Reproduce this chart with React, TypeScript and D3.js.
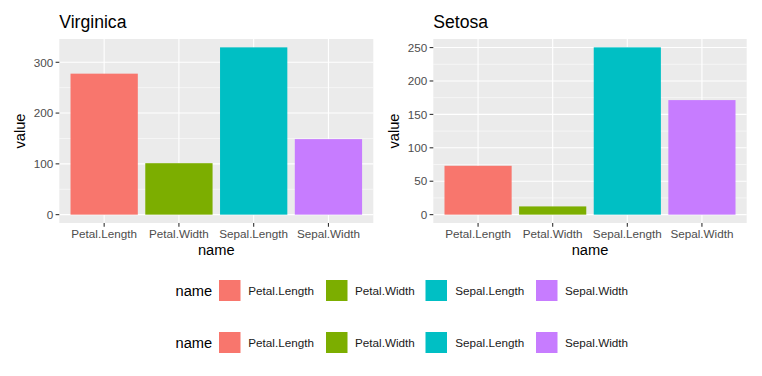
import React from "react";
import * as d3 from "d3";

const categories = ["Petal.Length", "Petal.Width", "Sepal.Length", "Sepal.Width"];
const virginicaValues = [277.6, 101.3, 329.4, 148.7];
const setosaValues = [73.1, 12.3, 250.3, 171.4];
const colors = ["#F8766D", "#7CAE00", "#00BFC4", "#C77CFF"];
const virginicaTicks = [0, 100, 200, 300];
const virginicaMinor = [50, 150, 250];
const setosaTicks = [0, 50, 100, 150, 200, 250];
const setosaMinor = [25, 75, 125, 175, 225];
const panelTitles = ["Virginica", "Setosa"];
const legendTitle = "name";
const xTitle = "name";
const yTitle = "value";

const FONT = "'Liberation Sans', Arial, Helvetica, sans-serif";

function Panel({ x0, x1, title, values, ticks, minor }: any) {
  const top = 39;
  const bottom = 223;
  const maxV = d3.max(values as number[]) as number;
  const y = d3.scaleLinear().domain([-0.05 * maxV, 1.05 * maxV]).range([bottom, top]);
  const x = d3.scalePoint<string>().domain(categories).range([x0, x1]).padding(0.6);
  const bw = x.step() * 0.9;
  return (
    <g>
      <text x={x0} y={28} fontSize={17.6} fill="#000" fontFamily={FONT}>{title}</text>
      <rect x={x0} y={top} width={x1 - x0} height={bottom - top} fill="#EBEBEB" />
      {minor.map((t: number) => (
        <line key={"m" + t} x1={x0} x2={x1} y1={y(t)} y2={y(t)} stroke="#fff" strokeWidth={0.55} />
      ))}
      {ticks.map((t: number) => (
        <line key={"t" + t} x1={x0} x2={x1} y1={y(t)} y2={y(t)} stroke="#fff" strokeWidth={1.1} />
      ))}
      {categories.map((c) => (
        <line key={"v" + c} x1={x(c)} x2={x(c)} y1={top} y2={bottom} stroke="#fff" strokeWidth={1.1} />
      ))}
      {categories.map((c, i) => (
        <rect key={"b" + c} x={(x(c) as number) - bw / 2} y={y(values[i])} width={bw}
          height={y(0) - y(values[i])} fill={colors[i]} />
      ))}
      {ticks.map((t: number) => (
        <g key={"yt" + t}>
          <line x1={x0 - 3.7} x2={x0} y1={y(t)} y2={y(t)} stroke="#333" strokeWidth={1.1} />
          <text x={x0 - 6} y={y(t)} dy="0.36em" textAnchor="end" fontSize={11.7} fill="#4D4D4D" fontFamily={FONT}>{t}</text>
        </g>
      ))}
      {categories.map((c) => (
        <g key={"xt" + c}>
          <line x1={x(c)} x2={x(c)} y1={bottom} y2={bottom + 3.7} stroke="#333" strokeWidth={1.1} />
          <text x={x(c)} y={238.3} textAnchor="middle" fontSize={11.7} fill="#4D4D4D" fontFamily={FONT}>{c}</text>
        </g>
      ))}
      <text x={(x0 + x1) / 2} y={254.5} textAnchor="middle" fontSize={14.67} fill="#000" fontFamily={FONT}>{xTitle}</text>
      <text transform={`translate(${x0 - 34.5},${(top + bottom) / 2}) rotate(-90)`} textAnchor="middle"
        fontSize={14.67} fill="#000" fontFamily={FONT}>{yTitle}</text>
    </g>
  );
}

function Legend({ cy }: { cy: number }) {
  const keyX = [219, 326, 425.5, 536];
  const labelX = [248.3, 355, 455.3, 565];
  return (
    <g>
      <text x={175.5} y={cy + 5.3} fontSize={14.67} fill="#000" fontFamily={FONT}>{legendTitle}</text>
      {categories.map((c, i) => (
        <g key={c}>
          <rect x={keyX[i]} y={cy - 10.5} width={21.5} height={21} fill={colors[i]} />
          <text x={labelX[i]} y={cy + 4.1} fontSize={11.7} fill="#1A1A1A" fontFamily={FONT}>{c}</text>
        </g>
      ))}
    </g>
  );
}

export default function App() {
  return (
    <svg width={762} height={376} style={{ position: "absolute", left: 0, top: 0, background: "#fff" }}>
      <rect width={762} height={376} fill="#fff" />
      <Panel x0={59.3} x1={373.3} title={panelTitles[0]} values={virginicaValues} ticks={virginicaTicks} minor={virginicaMinor} />
      <Panel x0={433.3} x1={746.7} title={panelTitles[1]} values={setosaValues} ticks={setosaTicks} minor={setosaMinor} />
      <Legend cy={290.5} />
      <Legend cy={342.5} />
    </svg>
  );
}
